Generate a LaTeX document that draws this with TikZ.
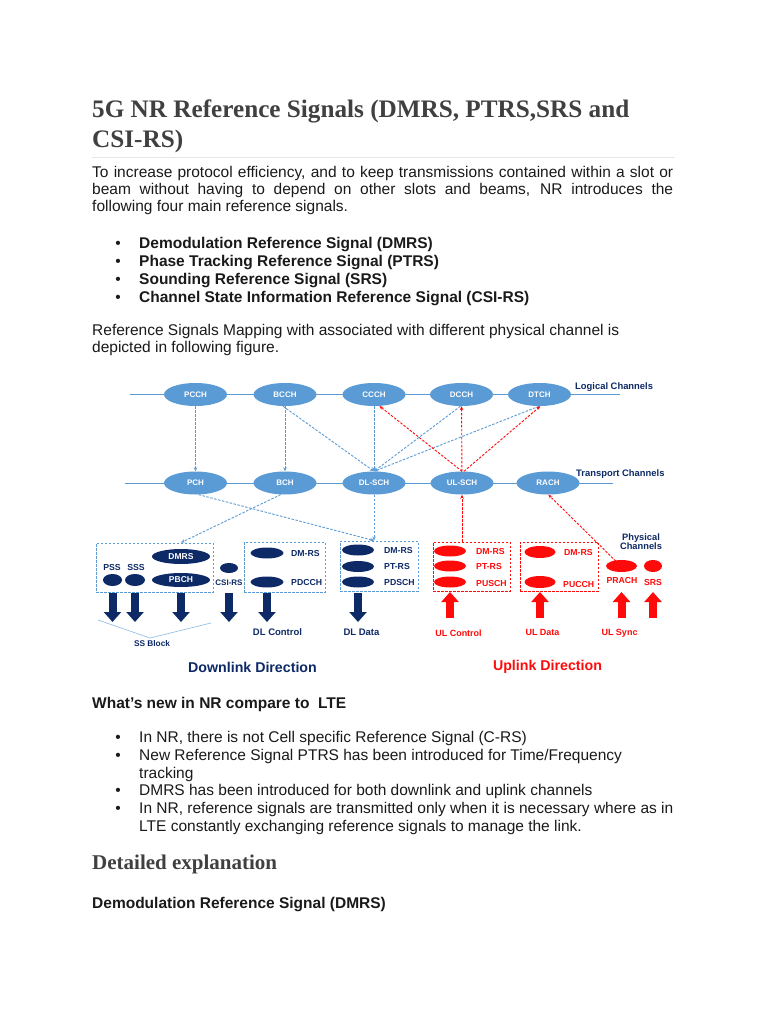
\documentclass[tikz,border=0pt]{standalone}
\usepackage{fontspec}
\setmainfont{Liberation Sans}
\newfontfamily\titlefont{Liberation Serif}
\usetikzlibrary{arrows.meta, positioning, shapes.geometric, calc}
\definecolor{chBlue}{HTML}{5B9BD5}
\definecolor{rsNavy}{HTML}{0D2A66}
\definecolor{rsRed}{HTML}{FF0A0A}
\definecolor{headGray}{HTML}{404040}
\definecolor{bodyText}{HTML}{1A1A1A}
\definecolor{ruleGray}{HTML}{E6E6E6}
\newcommand{\fsz}[1]{\fontsize{#1}{#1}\selectfont}

\begin{document}
\begin{tikzpicture}[x=1pt, y=-1pt,
  chan/.style={ellipse, fill=chBlue, text=white, font=\fsz{8}\bfseries, minimum width=63pt, minimum height=23pt, inner sep=0pt},
  chline/.style={chBlue, line width=1pt},
  dnlink/.style={chBlue, line width=0.9pt, dash pattern=on 2.5pt off 1.5pt, -{Stealth[length=4pt,width=3.5pt]}},
  uplink/.style={dnlink, rsRed},
  dnbox/.style={draw=chBlue, line width=0.9pt, dash pattern=on 2.5pt off 1.5pt, inner sep=0pt},
  upbox/.style={dnbox, draw=rsRed},
  dnsig/.style={ellipse, fill=rsNavy, text=white, font=\fsz{8.5}\bfseries, inner sep=0pt},
  upsig/.style={dnsig, fill=rsRed},
  dnlab/.style={text=rsNavy, font=\fsz{8.7}\bfseries, inner sep=0pt},
  uplab/.style={dnlab, text=rsRed},
  dnarrow/.style={rsNavy, line width=8pt, -{Triangle[width=17pt,length=10pt]}},
  uparrow/.style={dnarrow, rsRed},
  body/.style={anchor=base west, inner sep=0pt, text=bodyText, font=\fsz{15.5}},
  bodybf/.style={body, font=\fsz{15.5}\bfseries},
  bulletmark/.style={anchor=base, inner sep=0pt, text=bodyText, font=\fsz{15.5}},
  headline/.style={anchor=base west, inner sep=0pt, text=headGray, font=\titlefont\fsz{25.2}\bfseries}
]
\fill[white] (0,0) rectangle (768,1024);
\useasboundingbox (0,0) rectangle (768,1024);

% heading and intro text
\node[headline] (title1) at (92,118) {5G NR Reference Signals (DMRS, PTRS,SRS and};
\node[headline] (title2) at (92,148) {CSI-RS)};
\coordinate (ruleL) at (92,157.5);
\coordinate (ruleR) at (675,157.5);
\draw[ruleGray, line width=1pt] (ruleL) -- (ruleR);

\node[body] (intro1) at (92,178) {\makebox[581pt][s]{To increase protocol efficiency, and to keep transmissions contained within a slot or}};
\node[body] (intro2) at (92,195) {\makebox[581pt][s]{beam without having to depend on other slots and beams, NR introduces the}};
\node[body] (intro3) at (92,212) {following four main reference signals.};

\foreach \txt [count=\i] in {Demodulation Reference Signal (DMRS), Phase Tracking Reference Signal (PTRS), Sounding Reference Signal (SRS), Channel State Information Reference Signal (CSI-RS)} {
  \node[bulletmark] (b\i) at (118,{230+18*\i}) {\textbullet};
  \node[bodybf] (rs\i) at (139,{230+18*\i}) {\txt};
}

\node[body] (map1) at (92,335) {Reference Signals Mapping with associated with different physical channel is};
\node[body] (map2) at (92,352) {depicted in following figure.};

% logical and transport channels
\coordinate (logL) at (130,394.5);
\coordinate (logR) at (620,394.5);
\coordinate (trL) at (125,483);
\coordinate (trR) at (613,483);
\draw[chline] (logL) -- (logR);
\draw[chline] (trL) -- (trR);

\node[chan] (pcch) at (195.5,394.5) {PCCH};
\node[chan] (bcch) at (285,394.5) {BCCH};
\node[chan] (ccch) at (374,394.5) {CCCH};
\node[chan] (dcch) at (461.5,394.5) {DCCH};
\node[chan] (dtch) at (539.5,394.5) {DTCH};

\node[chan] (pch) at (195.5,483) {PCH};
\node[chan] (bch) at (285,483) {BCH};
\node[chan] (dlsch) at (374,483) {DL-SCH};
\node[chan] (ulsch) at (462,483) {UL-SCH};
\node[chan] (rach) at (548,483) {RACH};

\node[dnlab, font=\fsz{9.4}\bfseries, anchor=base west] (loglab) at (575,389.5) {Logical Channels};
\node[dnlab, font=\fsz{9.4}\bfseries, anchor=base west] (trlab) at (576,476.5) {Transport Channels};

% physical channel boxes
\node[dnbox, minimum width=117pt, minimum height=49pt] (ssb) at (154.5,567.5) {};
\node[dnbox, minimum width=81pt, minimum height=50pt] (dlc) at (284.5,567) {};
\node[dnbox, minimum width=78pt, minimum height=50pt] (dld) at (379,566) {};
\node[upbox, minimum width=77pt, minimum height=49pt] (ulc) at (471.5,566.5) {};
\node[upbox, minimum width=78pt, minimum height=49pt] (uld) at (559,566.5) {};

% downlink signals
\node[dnlab] (psslab) at (112,567) {PSS};
\node[dnlab] (ssslab) at (136,567) {SSS};
\node[dnsig, minimum width=19pt, minimum height=12pt] (pss) at (112.5,580) {};
\node[dnsig, minimum width=20pt, minimum height=12pt] (sss) at (135,580) {};
\node[dnsig, minimum width=58pt, minimum height=15pt] (dmrs) at (181,556.5) {DMRS};
\node[dnsig, minimum width=58pt, minimum height=14pt] (pbch) at (181,580) {PBCH};
\node[dnsig, minimum width=18pt, minimum height=10pt] (csirs) at (229,568) {};
\node[dnlab, font=\fsz{8}\bfseries] (csilab) at (229,583) {CSI-RS};

\node[dnsig, minimum width=33pt, minimum height=11pt] (dlcA) at (267,553) {};
\node[dnsig, minimum width=33pt, minimum height=11pt] (dlcB) at (267,582) {};
\node[dnlab, anchor=west] at (291,553) {DM-RS};
\node[dnlab, anchor=west] at (291,582) {PDCCH};

\node[dnsig, minimum width=32pt, minimum height=11pt] (dldA) at (358,550) {};
\node[dnsig, minimum width=32pt, minimum height=11pt] (dldB) at (358,566.5) {};
\node[dnsig, minimum width=32pt, minimum height=11pt] (dldC) at (358,582) {};
\node[dnlab, anchor=west] at (384,550) {DM-RS};
\node[dnlab, anchor=west] at (384,566.5) {PT-RS};
\node[dnlab, anchor=west] at (384,582) {PDSCH};

% uplink signals
\node[upsig, minimum width=32pt, minimum height=11pt] (ulcA) at (450,551) {};
\node[upsig, minimum width=32pt, minimum height=11pt] (ulcB) at (450,566) {};
\node[upsig, minimum width=32pt, minimum height=11pt] (ulcC) at (450,582) {};
\node[uplab, anchor=west] at (476,551) {DM-RS};
\node[uplab, anchor=west] at (476,566) {PT-RS};
\node[uplab, anchor=west] at (476,583) {PUSCH};

\node[upsig, minimum width=31pt, minimum height=12pt] (uldA) at (540,552) {};
\node[upsig, minimum width=31pt, minimum height=12pt] (uldB) at (540,582) {};
\node[uplab, anchor=west] at (564,552) {DM-RS};
\node[uplab, anchor=west] at (563,584) {PUCCH};

\node[upsig, minimum width=31pt, minimum height=12pt] (prach) at (621.5,566) {};
\node[upsig, minimum width=18pt, minimum height=12pt] (srs) at (653,566) {};
\node[uplab] (prachlab) at (622,580.5) {PRACH};
\node[uplab] (srslab) at (653,582) {SRS};
\node[dnlab, font=\fsz{9.3}\bfseries, align=center] (phylab) at (641,541.5) {Physical\\[0.3pt]Channels};

% mapping connectors
\draw[dnlink] (pcch) -- (pch);
\draw[dnlink] (bcch) -- (bch);
\draw[dnlink] (bcch.-100) -- (dlsch.north);
\draw[dnlink] (ccch) -- (dlsch);
\draw[dnlink] (dcch.-95) -- (dlsch.north);
\draw[dnlink] (dtch.-92) -- (dlsch.north);
\coordinate (dldIn) at (dlsch.south |- dld.north);
\coordinate (ssbIn) at (pbch.north |- ssb.north);
\draw[dnlink] (pch.-75) -- (dldIn);
\draw[dnlink] (dlsch) -- (dldIn);
\draw[dnlink] (bch.-110) -- (ssbIn);

\draw[uplink] (ulsch.north) -- (ccch.-65);
\draw[uplink] (ulsch) -- (dcch);
\draw[uplink] ([xshift=2pt]ulsch.north) -- (dtch.-86);
\draw[uplink] (ulsch.south |- ulc.north) -- (ulsch.south);
\draw[uplink] ([yshift=-7pt]prach.north) -- (rach.-88);

% transmission arrows
\coordinate (dnTop) at (0,593);
\coordinate (dnTip) at (0,622);
\foreach \sig in {pss, sss, pbch, csirs, dlcB, dldC}
  \draw[dnarrow] (\sig |- dnTop) -- (\sig |- dnTip);
\coordinate (upBot) at (0,618);
\coordinate (upTip) at (0,592);
\foreach \sig in {ulcC, uldB, prach, srs}
  \draw[uparrow] (\sig |- upBot) -- (\sig |- upTip);

\coordinate (ssbL) at (98,620);
\coordinate (ssbM) at (150,638);
\coordinate (ssbR) at (211,623);
\draw[chBlue!70, line width=0.6pt] (ssbL) -- (ssbM) -- (ssbR);
\node[dnlab, font=\fsz{8.3}\bfseries] (ssblab) at (152,643.5) {SS Block};

\node[dnlab, font=\fsz{9.5}\bfseries] (dlclab) at (277.5,632) {DL Control};
\node[dnlab, font=\fsz{9.5}\bfseries] (dldlab) at (361.5,632) {DL Data};
\node[uplab, font=\fsz{9}\bfseries] (ulclab) at (458.5,633) {UL Control};
\node[uplab, font=\fsz{9}\bfseries] (uldlab) at (542.5,632) {UL Data};
\node[uplab, font=\fsz{9}\bfseries] (ulslab) at (619.5,633) {UL Sync};

\node[dnlab, font=\fsz{14.2}\bfseries] (dndir) at (252.5,667) {Downlink Direction};
\node[uplab, font=\fsz{14.2}\bfseries] (updir) at (547.5,667) {Uplink Direction};

% closing text
\node[bodybf] (news) at (92,708) {What’s new in NR compare to~~LTE};
\node[bulletmark] (n1) at (118,742) {\textbullet};
\node[body] (t1) at (139,742) {In NR, there is not Cell specific Reference Signal (C-RS)};
\node[bulletmark] (n2) at (118,760) {\textbullet};
\node[body] (t2) at (139,760) {New Reference Signal PTRS has been introduced for Time/Frequency};
\node[body] (t2b) at (139,778) {tracking};
\node[bulletmark] (n3) at (118,795) {\textbullet};
\node[body] (t3) at (139,795) {DMRS has been introduced for both downlink and uplink channels};
\node[bulletmark] (n4) at (118,813) {\textbullet};
\node[body] (t4) at (139,813) {In NR, reference signals are transmitted only when it is necessary where as in};
\node[body] (t4b) at (139,831) {LTE constantly exchanging reference signals to manage the link.};

\node[headline, font=\titlefont\fsz{21}\bfseries] (detail) at (92,869) {Detailed explanation};
\node[bodybf] (dmrshead) at (92,908) {Demodulation Reference Signal (DMRS)};
\end{tikzpicture}
\end{document}
